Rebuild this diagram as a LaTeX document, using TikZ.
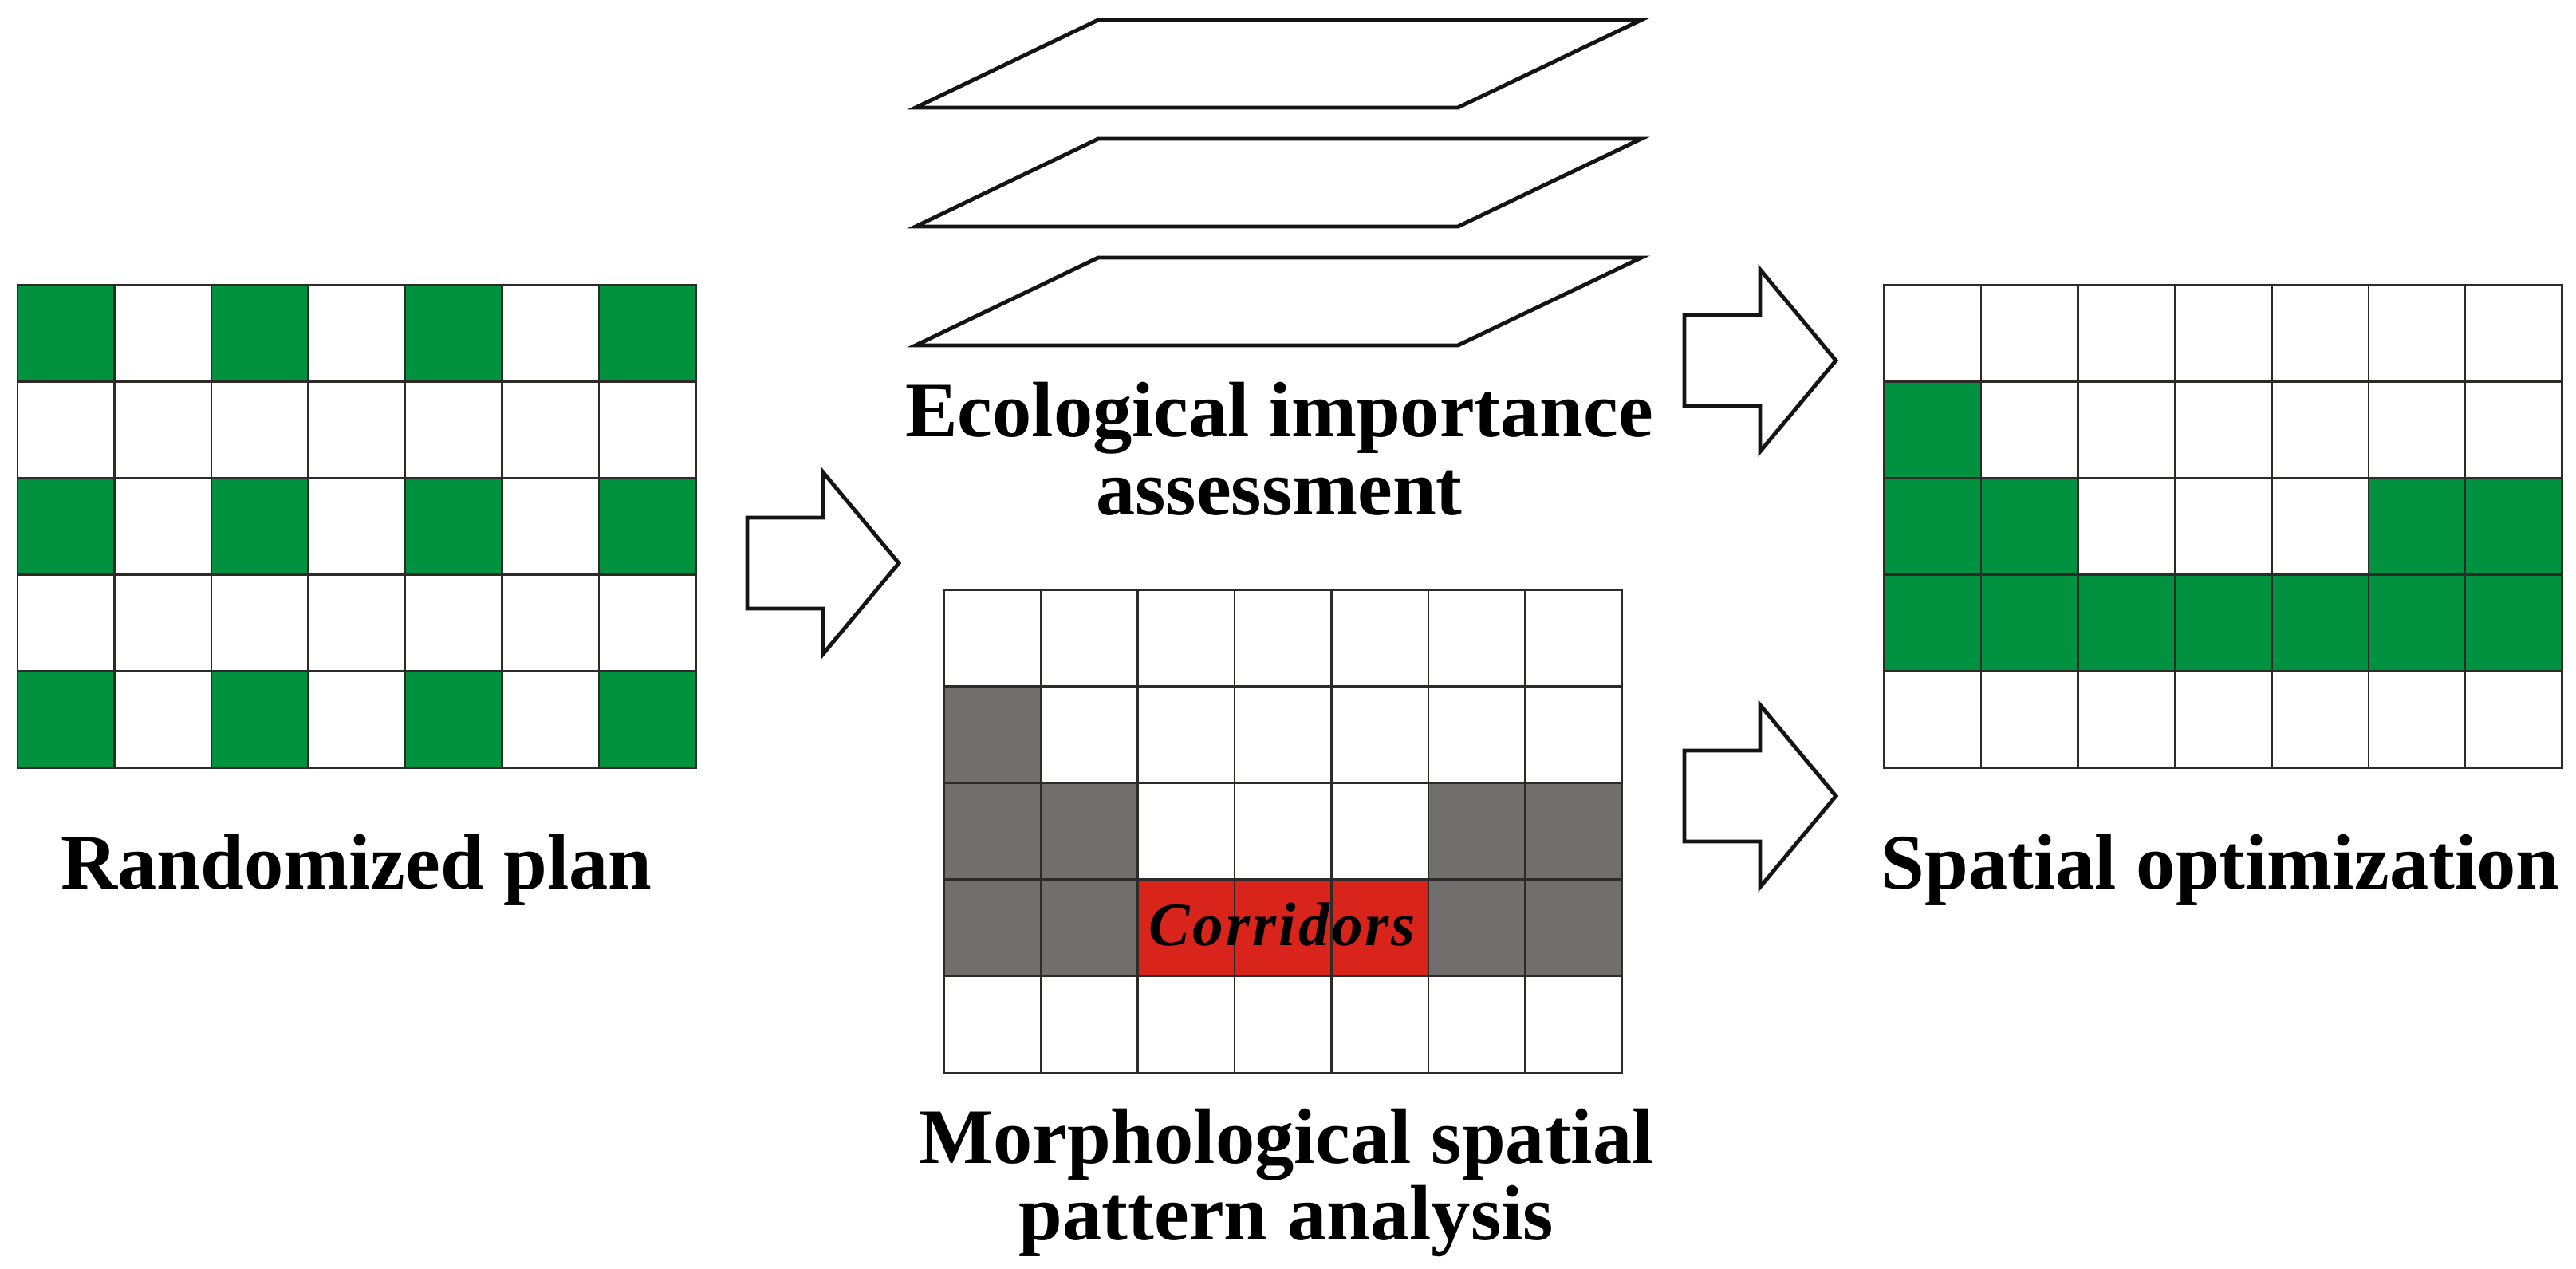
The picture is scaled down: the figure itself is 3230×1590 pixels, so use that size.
\documentclass[tikz,border=0pt]{standalone}
\usepackage{fontspec}
\setmainfont{Liberation Serif}
\definecolor{pgreen}{RGB}{0,146,63}
\definecolor{pgray}{RGB}{112,111,110}
\definecolor{pred}{RGB}{217,36,28}
\definecolor{gline}{RGB}{45,42,40}
\begin{document}
\begin{tikzpicture}[x=0.01cm,y=-0.01cm,
  gridline/.style={draw=gline,line width=0.7pt,line cap=rect},
  blockout/.style={draw=black!92,line width=1.4pt,line join=miter,fill=white},
  lbl/.style={font=\fontsize{28}{28}\selectfont\bfseries,inner sep=0pt,anchor=base},
  corr/.style={font=\fontsize{22}{22}\selectfont\bfseries\itshape\addfontfeature{LetterSpace=4},inner sep=0pt,anchor=base}]
\useasboundingbox (0,0) rectangle (3230,1590);

% ---------- left grid: randomized plan ----------
\begin{scope}[shift={(0.22cm,-3.57cm)},x=1.214cm,y=-1.21cm]
  \foreach \r in {0,2,4}
    \foreach \c in {0,2,4,6}
      \fill[pgreen] (\c,\r) rectangle ++(1,1);
  \foreach \c in {0,...,7} \draw[gridline] (\c,0) -- (\c,5);
  \foreach \r in {0,...,5} \draw[gridline] (0,\r) -- (7,\r);
\end{scope}
\node[lbl] (rand) at (447,1114) {Randomized plan};

% ---------- stacked layers ----------
\foreach \t in {25,174,323}
  \draw[blockout] (1377,\t) -- (2058,\t) -- (1828,\t+110) -- (1148,\t+110) -- cycle;
\node[lbl] (eco1) at (1604,547) {Ecological importance};
\node[lbl] (eco2) at (1604,645) {assessment};

% ---------- middle grid: MSPA ----------
\begin{scope}[shift={(11.83cm,-7.39cm)},x=1.214cm,y=-1.21cm]
  \foreach \c/\r in {0/1,0/2,1/2,5/2,6/2,0/3,1/3,5/3,6/3}
    \fill[pgray] (\c,\r) rectangle ++(1,1);
  \foreach \c in {2,3,4}
    \fill[pred] (\c,3) rectangle ++(1,1);
  \foreach \c in {0,...,7} \draw[gridline] (\c,0) -- (\c,5);
  \foreach \r in {0,...,5} \draw[gridline] (0,\r) -- (7,\r);
\end{scope}
\node[corr] (corridors) at (1608,1185) {Corridors};
\node[lbl] (mor1) at (1613,1458) {Morphological spatial};
\node[lbl] (mor2) at (1613,1554) {pattern analysis};

% ---------- right grid: spatial optimization ----------
\begin{scope}[shift={(23.61cm,-3.57cm)},x=1.214cm,y=-1.21cm]
  \foreach \c/\r in {0/1,0/2,1/2,5/2,6/2,0/3,1/3,2/3,3/3,4/3,5/3,6/3}
    \fill[pgreen] (\c,\r) rectangle ++(1,1);
  \foreach \c in {0,...,7} \draw[gridline] (\c,0) -- (\c,5);
  \foreach \r in {0,...,5} \draw[gridline] (0,\r) -- (7,\r);
\end{scope}
\node[lbl] (spat) at (2784,1114) {Spatial optimization};

% ---------- block arrows ----------
\foreach \ox/\oy in {937/592, 2112/338, 2112/884}
  \draw[blockout,shift={(\ox,\oy)}] (0,57) -- (95,57) -- (95,0) -- (190,114)
        -- (95,228) -- (95,171) -- (0,171) -- cycle;
\end{tikzpicture}
\end{document}
